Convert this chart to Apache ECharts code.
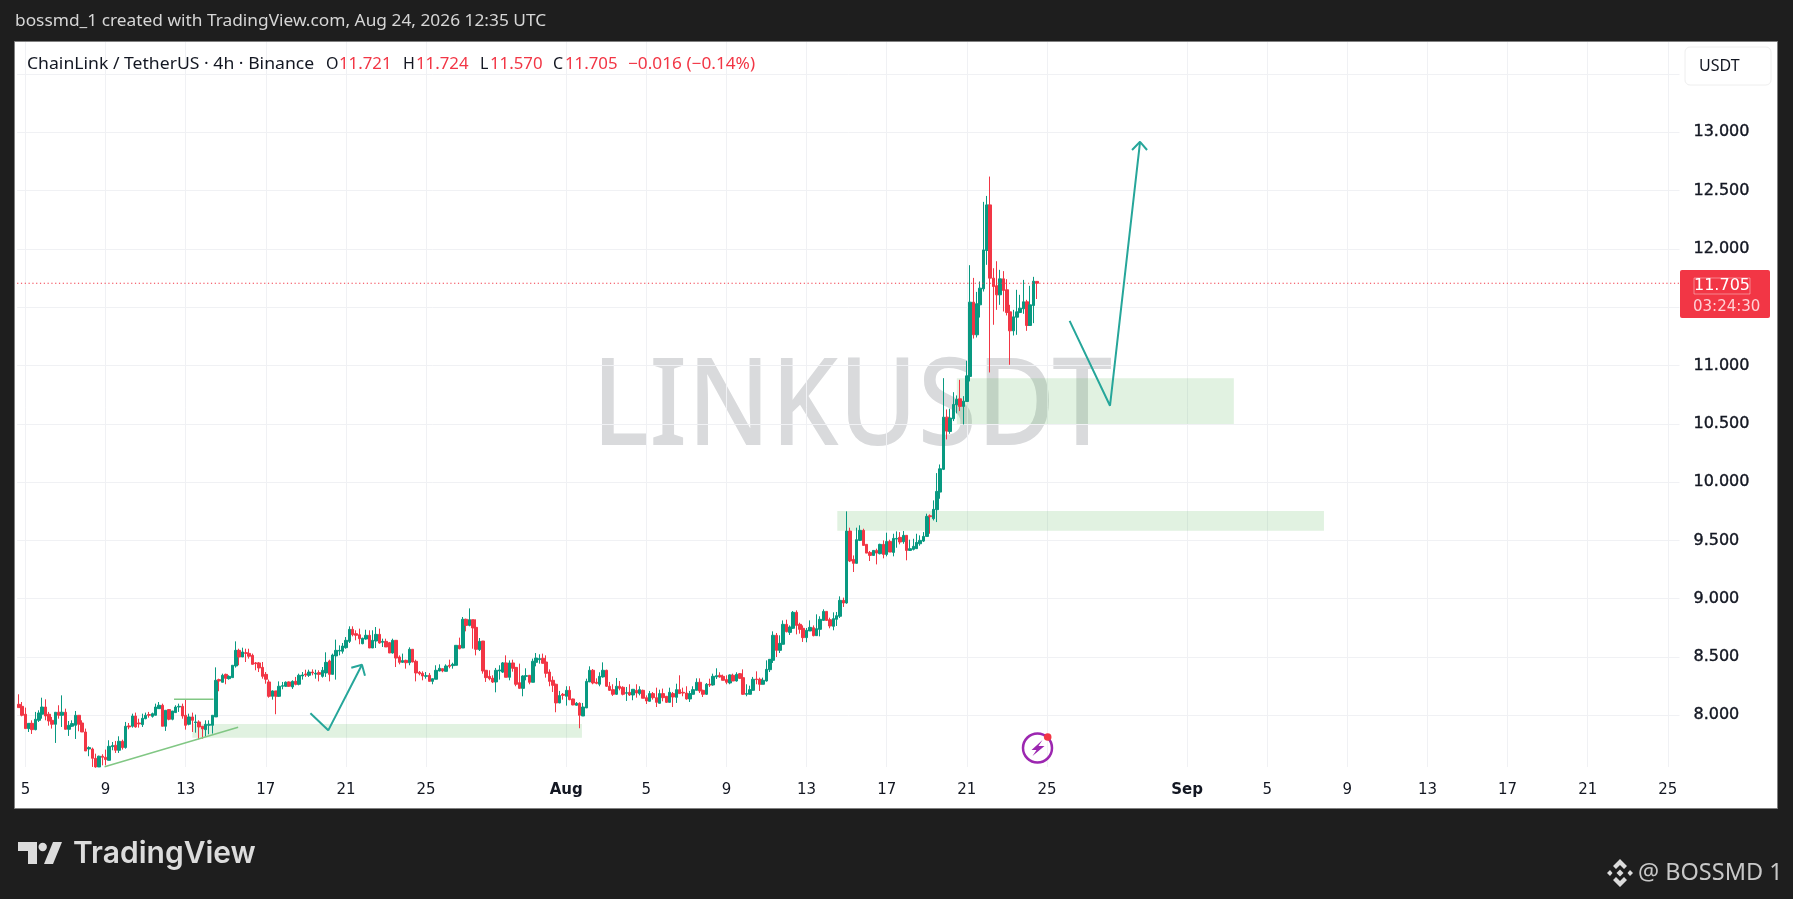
<!DOCTYPE html>
<html>
<head>
<meta charset="utf-8">
<style>html,body{margin:0;padding:0;background:#1e1e1e}#c{width:1793px;height:899px}</style>
<script src="https://cdn.jsdelivr.net/npm/echarts@6/dist/echarts.min.js"></script>
</head>
<body>
<div id="c"></div>
<script>
// Candles in [open, close, low, high], 4h bars, first bar Jul 4 16:00
const candlesJuly = [
[8.094,8.066,8.066,8.18],[8.077,8.0,7.991,8.114],[8.009,7.886,7.886,8.066],[7.886,7.931,7.857,7.931],[7.931,7.877,7.84,7.957],[7.877,7.966,7.871,8.029],
[7.957,8.02,7.943,8.043],[8.009,8.071,7.971,8.151],[8.071,7.994,7.957,8.137],[8.009,7.951,7.911,8.029],[7.957,7.923,7.886,7.986],[7.923,8.026,7.763,8.026],
[8.026,8.0,7.971,8.086],[8.0,8.026,7.9,8.171],[8.026,7.88,7.88,8.057],[7.88,7.914,7.823,7.951],[7.906,7.929,7.9,7.957],[7.914,8.0,7.797,8.037],
[8.0,7.923,7.863,8.0],[7.934,7.857,7.857,7.957],[7.857,7.694,7.694,7.886],[7.711,7.723,7.649,7.734],[7.711,7.631,7.557,7.723],[7.631,7.557,7.551,7.671],
[7.557,7.649,7.557,7.654],[7.649,7.64,7.571,7.666],[7.64,7.62,7.571,7.706],[7.614,7.734,7.614,7.786],[7.731,7.74,7.7,7.771],[7.743,7.7,7.677,7.78],
[7.7,7.777,7.677,7.82],[7.777,7.723,7.706,7.791],[7.723,7.906,7.714,7.943],[7.909,7.9,7.88,7.934],[7.906,7.994,7.894,8.014],[7.994,7.9,7.894,8.023],
[7.934,7.926,7.894,7.971],[7.92,7.974,7.9,8.014],[7.971,8.0,7.966,8.023],[8.006,8.0,7.98,8.029],[7.991,8.014,7.98,8.023],[8.0,8.071,8.0,8.1],
[8.057,8.086,8.057,8.114],[8.086,7.906,7.906,8.1],[7.906,8.043,7.866,8.043],[8.049,7.966,7.957,8.054],[7.966,8.037,7.957,8.037],[8.023,8.071,8.02,8.086],
[8.071,8.077,8.029,8.1],[8.077,7.994,7.971,8.1],[8.0,7.914,7.877,8.134],[7.923,7.986,7.914,8.014],[7.986,7.957,7.857,8.023],[7.937,7.943,7.851,8.006],
[7.943,7.9,7.794,7.957],[7.906,7.883,7.8,7.906],[7.877,7.923,7.814,7.957],[7.914,7.923,7.837,7.957],[7.914,8.0,7.843,8.0],
[7.986,8.3,7.986,8.411],[8.306,8.294,8.206,8.314],[8.283,8.343,8.283,8.357],[8.351,8.317,8.266,8.357],[8.314,8.334,8.306,8.343],[8.323,8.429,8.323,8.429],
[8.423,8.557,8.409,8.634],[8.557,8.5,8.429,8.571],[8.5,8.543,8.5,8.58],[8.537,8.531,8.457,8.571],[8.531,8.506,8.486,8.571],[8.514,8.437,8.437,8.529],
[8.449,8.443,8.386,8.457],[8.449,8.406,8.371,8.457],[8.411,8.334,8.314,8.457],[8.351,8.309,8.271,8.371],[8.286,8.163,8.151,8.306],[8.163,8.209,8.134,8.214],
[8.209,8.163,8.009,8.209],[8.163,8.249,8.157,8.291],[8.249,8.254,8.223,8.286],[8.249,8.283,8.243,8.291],[8.286,8.249,8.243,8.291],[8.243,8.291,8.226,8.3],
[8.291,8.266,8.257,8.329],[8.266,8.343,8.257,8.357],[8.337,8.346,8.306,8.371],[8.354,8.346,8.329,8.391],[8.343,8.371,8.329,8.391],[8.371,8.363,8.343,8.394],
[8.354,8.36,8.314,8.391],[8.366,8.351,8.291,8.386],[8.334,8.386,8.323,8.414],[8.363,8.454,8.329,8.54],[8.466,8.351,8.291,8.477],[8.351,8.517,8.351,8.529],
[8.509,8.557,8.306,8.649],[8.551,8.557,8.514,8.6],[8.549,8.594,8.529,8.62],[8.58,8.643,8.571,8.671],[8.634,8.737,8.62,8.763],[8.737,8.691,8.677,8.763],
[8.7,8.686,8.643,8.729],[8.691,8.657,8.609,8.743],[8.614,8.66,8.609,8.666],[8.654,8.686,8.649,8.734],[8.686,8.577,8.577,8.729],[8.577,8.643,8.577,8.729],
[8.637,8.694,8.577,8.757],[8.694,8.62,8.614,8.743],[8.626,8.634,8.586,8.657],[8.634,8.586,8.586,8.657],[8.623,8.534,8.534,8.629],[8.534,8.643,8.529,8.657],
[8.643,8.491,8.414,8.643],[8.5,8.454,8.437,8.514],[8.454,8.469,8.449,8.529],[8.471,8.451,8.4,8.477],[8.451,8.566,8.429,8.583],[8.566,8.457,8.454,8.566],
[8.463,8.363,8.291,8.477],[8.369,8.357,8.343,8.38],[8.36,8.337,8.3,8.377],[8.334,8.34,8.314,8.371],[8.343,8.291,8.291,8.363],[8.291,8.314,8.266,8.314],
[8.309,8.386,8.309,8.429],[8.38,8.403,8.377,8.437],[8.4,8.38,8.369,8.4],[8.377,8.423,8.377,8.437],[8.429,8.42,8.403,8.477],[8.426,8.437,8.4,8.451],
[8.429,8.6,8.429,8.6],[8.6,8.571,8.566,8.666],[8.577,8.823,8.577,8.843],[8.823,8.771,8.72,8.829],[8.771,8.82,8.763,8.917],[8.82,8.749,8.571,8.82],
[8.754,8.566,8.514,8.823],[8.563,8.634,8.551,8.663],[8.637,8.38,8.357,8.637],[8.386,8.323,8.286,8.386],[8.334,8.314,8.3,8.386],[8.317,8.286,8.277,8.343],
[8.286,8.386,8.197,8.406],[8.38,8.389,8.306,8.429],[8.371,8.449,8.363,8.457],[8.449,8.326,8.326,8.514],[8.326,8.449,8.3,8.471],[8.449,8.403,8.374,8.477],
[8.411,8.266,8.249,8.414],[8.28,8.231,8.229,8.443],[8.231,8.337,8.163,8.343],[8.334,8.34,8.3,8.403],[8.343,8.283,8.266,8.343],[8.283,8.463,8.283,8.486],
[8.454,8.491,8.42,8.534],[8.477,8.486,8.443,8.523],[8.489,8.446,8.443,8.529],[8.457,8.36,8.323,8.514],[8.371,8.291,8.249,8.394],[8.3,8.257,8.2,8.334],
[8.266,8.106,8.026,8.271],[8.106,8.169,8.103,8.209],[8.18,8.171,8.134,8.191]
];
const candlesAugust = [
[8.163,8.214,8.083,8.249],[8.214,8.134,8.129,8.249],[8.14,8.089,8.086,8.143],[8.086,8.103,8.083,8.114],[8.103,8.0,7.889,8.111],[7.994,8.071,7.994,8.106],
[8.063,8.291,8.063,8.314],[8.286,8.386,8.286,8.42],[8.386,8.277,8.266,8.397],[8.283,8.274,8.266,8.317],[8.266,8.334,8.249,8.369],[8.329,8.386,8.323,8.454],
[8.386,8.249,8.243,8.391],[8.249,8.214,8.209,8.286],[8.22,8.18,8.166,8.266],[8.18,8.249,8.174,8.32],[8.249,8.231,8.214,8.294],[8.24,8.18,8.171,8.249],
[8.189,8.194,8.123,8.243],[8.197,8.174,8.166,8.266],[8.174,8.223,8.129,8.223],[8.214,8.191,8.151,8.266],[8.186,8.22,8.171,8.249],[8.214,8.146,8.146,8.22],
[8.151,8.123,8.097,8.171],[8.12,8.186,8.12,8.209],[8.186,8.151,8.134,8.2],[8.151,8.111,8.071,8.237],[8.103,8.186,8.103,8.22],[8.186,8.151,8.12,8.229],
[8.163,8.111,8.106,8.163],[8.111,8.197,8.111,8.237],[8.186,8.157,8.071,8.2],[8.154,8.22,8.106,8.271],[8.22,8.186,8.186,8.343],[8.197,8.191,8.163,8.237],
[8.191,8.14,8.134,8.249],[8.14,8.186,8.114,8.209],[8.18,8.22,8.18,8.249],[8.214,8.283,8.214,8.317],[8.283,8.209,8.191,8.317],[8.214,8.18,8.157,8.22],
[8.18,8.266,8.174,8.277],[8.266,8.26,8.243,8.314],[8.26,8.334,8.254,8.357],[8.329,8.34,8.311,8.403],[8.343,8.329,8.323,8.369],[8.334,8.3,8.3,8.349],
[8.306,8.283,8.266,8.343],[8.277,8.346,8.266,8.351],[8.343,8.294,8.294,8.357],[8.294,8.351,8.289,8.369],[8.357,8.317,8.311,8.363],[8.323,8.18,8.174,8.394],
[8.18,8.186,8.163,8.266],[8.18,8.22,8.18,8.254],[8.214,8.309,8.214,8.329],[8.311,8.306,8.266,8.377],[8.309,8.266,8.209,8.323],[8.266,8.3,8.266,8.323],
[8.294,8.394,8.289,8.471],[8.391,8.48,8.371,8.48],[8.471,8.686,8.449,8.72],[8.686,8.557,8.5,8.706],[8.557,8.617,8.534,8.686],[8.609,8.78,8.609,8.814],
[8.78,8.717,8.711,8.82],[8.711,8.757,8.689,8.771],[8.746,8.883,8.74,8.894],[8.883,8.771,8.694,8.9],[8.78,8.737,8.7,8.794],[8.746,8.666,8.629,8.771],
[8.666,8.729,8.626,8.749],[8.723,8.754,8.723,8.814],[8.751,8.683,8.677,8.771],[8.683,8.743,8.68,8.866],[8.737,8.823,8.677,8.849],[8.814,8.891,8.814,8.909],
[8.891,8.814,8.811,8.891],[8.82,8.766,8.746,8.837],[8.763,8.829,8.729,8.883],[8.823,8.854,8.766,8.886],[8.849,8.986,8.834,9.02],[8.986,8.963,8.929,9.009],
[8.963,9.58,8.957,9.749],[9.58,9.323,9.314,9.609],[9.337,9.303,9.229,9.371],[9.303,9.506,9.303,9.609],[9.5,9.586,9.494,9.629],[9.586,9.457,9.457,9.6],
[9.466,9.391,9.391,9.466],[9.397,9.371,9.323,9.409],[9.371,9.414,9.371,9.414],[9.414,9.391,9.294,9.429],[9.386,9.466,9.38,9.471],[9.466,9.38,9.346,9.5],
[9.38,9.491,9.363,9.566],[9.491,9.4,9.4,9.506],[9.397,9.517,9.363,9.557],[9.511,9.517,9.437,9.577],[9.526,9.486,9.466,9.571],[9.489,9.543,9.471,9.58],
[9.543,9.414,9.329,9.543],[9.414,9.429,9.411,9.506],[9.423,9.449,9.414,9.514],[9.429,9.483,9.426,9.557],[9.471,9.5,9.454,9.543],[9.494,9.534,9.486,9.571],
[9.534,9.706,9.534,9.729],[9.711,9.703,9.557,9.723],[9.686,9.766,9.671,9.843],[9.763,9.92,9.657,10.077],[9.914,10.114,9.857,10.151],[10.109,10.557,10.103,10.891],
[10.557,10.437,10.366,10.623],[10.434,10.549,10.414,10.629],[10.543,10.666,10.523,10.771],[10.663,10.709,10.589,10.743],[10.714,10.649,10.609,10.877],[10.649,10.694,10.494,10.737],
[10.691,10.911,10.691,11.04],[10.906,11.543,10.863,11.86],[11.543,11.263,11.231,11.751],[11.263,11.529,11.24,11.631],[11.52,11.663,11.411,11.72],[11.657,11.991,11.634,12.403],
[11.986,12.377,11.863,12.454],[12.377,11.749,10.94,12.62],[11.749,11.677,11.349,11.834],[11.683,11.606,11.477,11.894],[11.606,11.743,11.52,11.82],[11.743,11.643,11.463,11.809],
[11.649,11.454,11.429,11.74],[11.46,11.297,11.006,11.52],[11.297,11.417,11.257,11.477],[11.414,11.46,11.263,11.649],[11.454,11.491,11.449,11.606],[11.486,11.546,11.443,11.734],
[11.546,11.343,11.297,11.563],[11.343,11.52,11.343,11.683],[11.514,11.723,11.363,11.76],[11.721,11.705,11.57,11.724]
];
const tickDates  = ['07-05','07-09','07-13','07-17','07-21','07-25','08-01','08-05','08-09','08-13','08-17','08-21','08-25','09-01','09-05','09-09','09-13','09-17','09-21','09-25'];
const tickLabels = ['5','9','13','17','21','25','Aug','5','9','13','17','21','25','Sep','5','9','13','17','21','25'];
const priceTicks = [8,8.5,9,9.5,10,10.5,11,11.5,12,12.5,13];
const lastPrice = 11.705;
// Drawing tools: horizontal value = bar number from the left of the chart, vertical value = price
const zones = [[52.5,7.925,169.2,7.808],[245.7,9.752,391.5,9.583],[281.5,10.89,364.5,10.498]];
const trendLine = [[26.2,7.559],[66.2,7.897]];
const levelLine = [[47,8.137],[58.8,8.137]];
const smallArrow = [[87.85,8.017],[93.2,7.871],[103.3,8.434]];
const smallArrowHead = [[100.1,8.408],[103.3,8.434],[104.2,8.34]];
const bigArrow = [[315.3,11.382],[327.4,10.655],[336.4,12.918]];
const bigArrowHead = [[334,12.848],[336.4,12.918],[338.5,12.848]];

const BARS = 498, BARW = 3.338, GL = 17.15;
const candles = candlesJuly.concat(candlesAugust);
const categories = [];
{ const t0 = Date.UTC(2026,6,4,16);
  for (let i=0;i<BARS;i++){ const d=new Date(t0+i*4*3600e3);
    const p=n=>String(n).padStart(2,'0');
    categories.push(p(d.getUTCMonth()+1)+'-'+p(d.getUTCDate())+' '+p(d.getUTCHours())); } }
const tickKey = {};
tickDates.forEach((d,i)=>tickKey[d+' 00']=tickLabels[i]);
const isTick = (i,v)=>v in tickKey;

const UI = '"Noto Sans", sans-serif', AX='"DejaVu Sans", sans-serif';
const txt=(text,x,y,size,fill,extra,sx)=>({type:'text',x,y,z:20,scaleX:sx||1,silent:true,style:Object.assign({text,fontSize:size,fontFamily:UI,fill,verticalAlign:'middle'},extra||{})});
const poly=(pts,fill,x,y)=>({type:'polygon',x:x||0,y:y||0,z:20,silent:true,shape:{points:pts},style:{fill}});
const DARK='#131722', RED='#f23645', LOGO='#dcdcdc';
const graphics=[
 {type:'rect',z:-2,silent:true,shape:{x:14.5,y:41.5,width:1763,height:767},style:{fill:'#fff',stroke:'#808080',lineWidth:1}},
 {type:'text',x:592,y:410,z:-1,scaleX:0.88,silent:true,style:{text:'LINKUSDT',fontSize:122,fontWeight:500,fontFamily:UI,fill:'#d9dadc',verticalAlign:'middle'}},
 {type:'rect',z:1,silent:true,shape:{x:15,y:767,width:1762,height:41},style:{fill:'#fff'}},
 txt('bossmd_1 created with TradingView.com, Aug 24, 2026 12:35 UTC',15,21,16,'#d6d6d6',null,1.082),
 txt('ChainLink / TetherUS · 4h · Binance',27,64,16,DARK,null,1.1),
 txt('O',326,64,16,DARK),txt('11.721',339,64,16,RED,null,1.05),
 txt('H',403,64,16,DARK),txt('11.724',416,64,16,RED,null,1.05),
 txt('L',480,64,16,DARK),txt('11.570',490,64,16,RED,null,1.05),
 txt('C',553,64,16,DARK),txt('11.705',565,64,16,RED,null,1.05),
 txt('−0.016 (−0.14%)',628,64,16,RED,null,1.077),
 {type:'rect',z:20,silent:true,shape:{x:1685,y:47,width:86,height:38,r:5},style:{fill:'#fff',stroke:'#eeeeee',lineWidth:1}},
 txt('USDT',1699,66,16,DARK),
 {type:'rect',z:20,silent:true,shape:{x:1680,y:270,width:90,height:48,r:2},style:{fill:RED}},
 txt('11.705',1694,286,16,'#ffffff',{fontFamily:AX,textBorderColor:'#ffffff',textBorderWidth:0.4}),
 txt('03:24:30',1693,307,15,'#ffd0d5',{fontFamily:AX}),
 {type:'circle',z:20,silent:true,shape:{cx:1037.5,cy:748,r:14.5},style:{fill:'none',stroke:'#9c27b0',lineWidth:2.5}},
 poly([[5,-8],[-6,2],[-1,2],[-5,8],[7,-2],[1,-2]],'#9c27b0',1037.5,748),
 {type:'circle',z:21,silent:true,shape:{cx:1047.7,cy:737,r:3.8},style:{fill:RED}},
 poly([[18,842],[37,842],[37,864],[28,864],[28,851],[18,851]],LOGO),
 {type:'circle',z:20,silent:true,shape:{cx:42.7,cy:847,r:4.2},style:{fill:LOGO}},
 poly([[53,842],[62,842],[53,864],[44,864]],LOGO),
 txt('TradingView',73,854,30,LOGO,{fontFamily:'Inter, sans-serif',fontWeight:600}),
 poly([[0,-14],[7,-7],[4,-4],[0,-8],[-4,-4],[-7,-7]],LOGO,1620,873),
 poly([[0,14],[7,7],[4,4],[0,8],[-4,4],[-7,7]],LOGO,1620,873),
 poly([[0,-3.5],[3.5,0],[0,3.5],[-3.5,0]],LOGO,1620,873),
 poly([[-13,0],[-10,-3],[-7.5,0],[-10,3]],LOGO,1620,873),
 poly([[13,0],[10,-3],[7.5,0],[10,3]],LOGO,1620,873),
 txt('@ BOSSMD 1',1638,873,23.5,'#c8c8c8'),
];
const overlay=(data,color,width,type)=>({type:'line',xAxisIndex:1,yAxisIndex:0,data,symbol:'none',silent:true,z:6,animation:false,lineStyle:{color,width,type:type||'solid'}});

const chart=echarts.init(document.getElementById('c'),null,{renderer:'canvas'});
chart.setOption({
 animation:false,
 backgroundColor:'#1e1e1e',
 graphic:{elements:graphics},
 grid:{left:GL,top:42,width:BARS*BARW,height:731.6,containLabel:false},
 xAxis:[
  {type:'category',data:categories,boundaryGap:true,z:0,axisLine:{show:false},axisTick:{show:false},axisLabel:{show:false},
   splitLine:{show:true,interval:isTick,alignWithLabel:true,lineStyle:{color:'#f0f1f4',width:1}}},
  {type:'value',min:0,max:BARS,show:false},
  {type:'category',data:categories,boundaryGap:true,z:30,position:'bottom',axisLine:{show:false},axisTick:{show:false},splitLine:{show:false},
   axisLabel:{show:true,interval:isTick,hideOverlap:false,margin:9,fontSize:15,fontFamily:AX,color:DARK,
    formatter:v=>{const l=tickKey[v]; return /[A-Z]/.test(l)?'{b|'+l+'}':l;},
    rich:{b:{fontSize:15,fontFamily:AX,color:DARK,fontWeight:'bold'}}}}
 ],
 yAxis:[{type:'value',position:'right',min:7.5,max:13.774,interval:0.5,axisLine:{show:false},axisTick:{show:false},
  splitLine:{show:true,showMinLine:false,showMaxLine:false,lineStyle:{color:'#f0f1f4',width:1}},
  axisLabel:{margin:14,fontSize:16,fontFamily:AX,color:DARK,padding:[4,0,0,0],textBorderColor:DARK,textBorderWidth:0.4,showMinLabel:false,showMaxLabel:false,
   formatter:v=>priceTicks.includes(v)?v.toFixed(3):''}}],
 series:[
  {type:'candlestick',xAxisIndex:0,yAxisIndex:0,data:candles,barWidth:3,z:4,silent:true,animation:false,
   itemStyle:{color:'#089981',color0:RED,borderColor:'#089981',borderColor0:RED,borderWidth:1}},
  {type:'line',xAxisIndex:1,yAxisIndex:0,data:[],symbol:'none',silent:true,z:5,animation:false,
   markArea:{silent:true,itemStyle:{color:'rgba(76,175,80,0.17)'},
    data:zones.map(z=>[{coord:[z[0],z[1]]},{coord:[z[2],z[3]]}])}},
  overlay([[0,lastPrice],[BARS,lastPrice]],RED,1,[1.2,2.6]),
  overlay(trendLine,'#81c784',1.5),
  overlay(levelLine,'#81c784',1.5),
  overlay(smallArrow,'#26a69a',2),
  overlay(smallArrowHead,'#26a69a',2),
  overlay(bigArrow,'#26a69a',2),
  overlay(bigArrowHead,'#26a69a',2)
 ]
});
</script>
</body>
</html>
